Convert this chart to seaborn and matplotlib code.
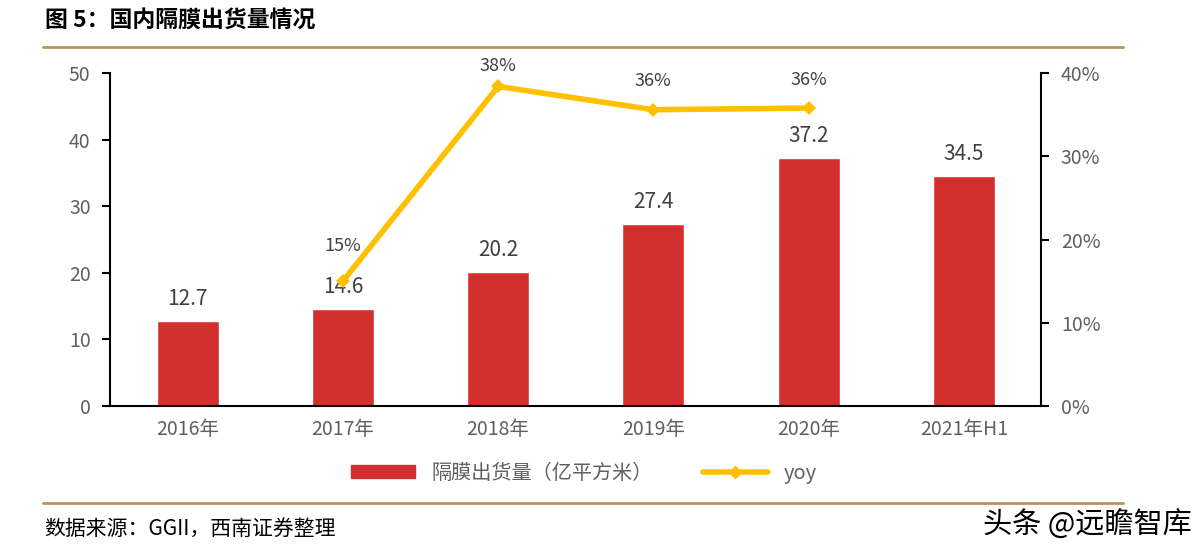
import numpy as np
import pandas as pd
import matplotlib
matplotlib.use("Agg")
import matplotlib.pyplot as plt
import seaborn as sns
from matplotlib.lines import Line2D
from matplotlib.patches import Patch

# data
years = ["2016年", "2017年", "2018年", "2019年", "2020年", "2021年H1"]
shipments = [12.7, 14.6, 20.2, 27.4, 37.2, 34.5]
yoy_years = ["2017年", "2018年", "2019年", "2020年"]
yoy = [0.150, 0.384, 0.356, 0.358]
yoy_labels = ["15%", "38%", "36%", "36%"]
yoy_label_gap = [0.042, 0.024, 0.035, 0.034]  # labels sit unevenly above the points

sns.set_style("white")
plt.rcParams['font.family'] = ['Noto Sans CJK SC', 'DejaVu Sans']

bar_color = "#D42F2F"
line_color = "#FFC000"
grey = "#606060"

fig = plt.figure(figsize=(12.04, 5.58), dpi=100)
ax = fig.add_axes([0.0914, 0.2724, 0.7736, 0.5966])

df = pd.DataFrame({"year": years, "val": shipments})
sns.barplot(data=df, x="year", y="val", color=bar_color, width=0.4,
            saturation=1, ax=ax)
ax.set_xlim(-0.5, 5.5)
ax.set_ylim(0, 50)
ax.set_yticks(range(0, 51, 10))
ax.set_xlabel("")
ax.set_ylabel("")
for i, v in enumerate(shipments):
    ax.text(i, v + 3.3, f"{v:.1f}", ha="center", va="center", fontsize=15, color="#404040")

ax2 = ax.twinx()
xpos = [years.index(y) for y in yoy_years]
sns.lineplot(x=xpos, y=yoy, color=line_color, linewidth=4, marker="D",
             markersize=7, markeredgewidth=0, ax=ax2)
ax2.set_ylim(0, 0.4)
ax2.set_yticks([0, 0.1, 0.2, 0.3, 0.4])
ax2.set_yticklabels(["0%", "10%", "20%", "30%", "40%"])
for x, v, lab, g in zip(xpos, yoy, yoy_labels, yoy_label_gap):
    ax2.text(x, v + g, lab, ha="center", va="center", fontsize=13, color="#404040")

for a in (ax, ax2):
    a.spines["top"].set_visible(False)
    for s in a.spines.values():
        s.set_color("black")
        s.set_linewidth(1.5)
    a.tick_params(axis="y", direction="out", length=6, width=1.5, colors="black",
                  labelcolor=grey, labelsize=14, pad=8)
ax.spines["right"].set_visible(False)
ax2.spines["left"].set_visible(False)
ax2.spines["bottom"].set_visible(False)
ax.tick_params(axis="x", length=0, labelcolor=grey, labelsize=14, pad=9)

# legend
handles = [Patch(color=bar_color),
           Line2D([0], [0], color=line_color, lw=4, marker="D", markersize=6)]
fig.legend(handles, ["隔膜出货量（亿平方米）", "yoy"], loc="center",
           bbox_to_anchor=(0.485, 0.152), ncol=2, frameon=False, fontsize=14.5,
           labelcolor=grey, handlelength=3.2, handleheight=0.6, columnspacing=2.5)

# title, rules, source
fig.text(0.037, 0.963, "图 5：国内隔膜出货量情况", fontsize=16.5, fontweight="bold",
         va="center", ha="left", color="black")
fig.add_artist(Line2D([0.036, 0.933], [0.916, 0.916], color="#B8955A", lw=2))
fig.add_artist(Line2D([0.036, 0.933], [0.098, 0.098], color="#B8955A", lw=2))
fig.text(0.037, 0.053, "数据来源：GGII，西南证券整理", fontsize=15, style="italic",
         va="center", ha="left", color="black")
fig.text(0.99, 0.058, "头条 @远瞻智库", fontsize=21, va="center", ha="right",
         color="black")

fig.savefig("out.png", dpi=100)
